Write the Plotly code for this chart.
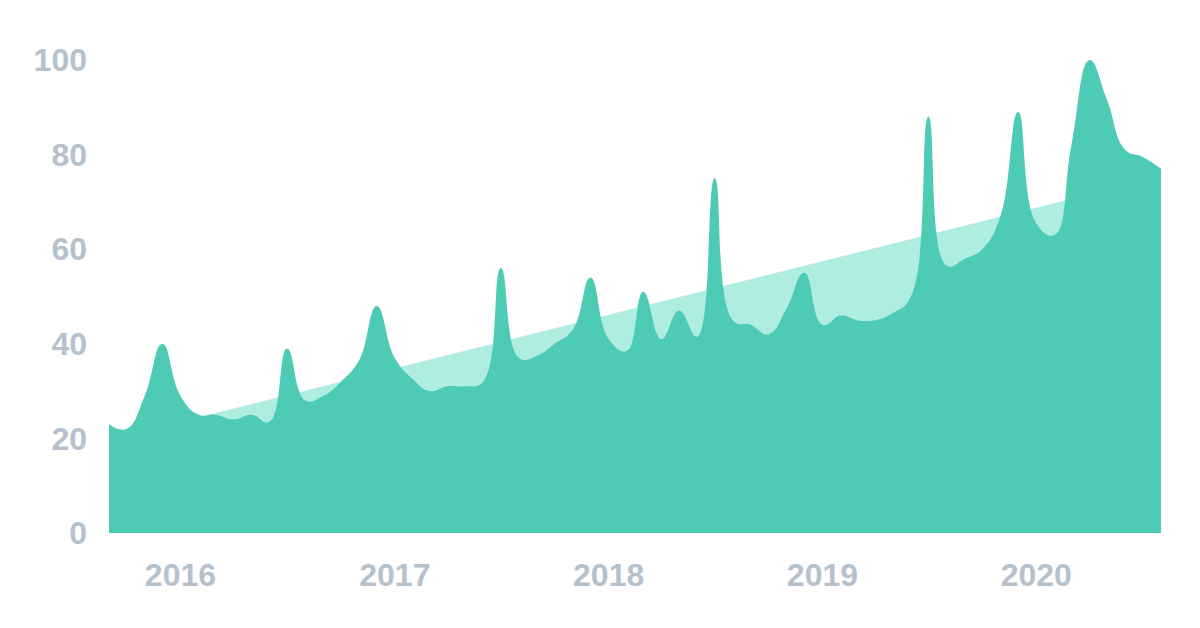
import plotly.graph_objects as go

# monthly interest, Sep 2015 .. Aug 2020
meses = [f"{2015 + (8 + i) // 12}-{(8 + i) % 12 + 1:02d}-01" for i in range(60)]
interesse = [
    23, 22, 29, 40,                                   # 2015 Sep-Dec
    29, 25, 25, 24, 25, 23.5, 39, 28, 29, 32, 36.5, 48,  # 2016
    37, 32.5, 30, 31, 31, 32, 56, 37, 37.5, 40, 43, 54,  # 2017
    41, 38.5, 51, 41, 47, 41.5, 75, 45, 44, 42, 47.5, 55,  # 2018
    44, 46, 45, 45, 46.5, 50, 88, 56.5, 58, 60, 67, 89,  # 2019
    65.5, 63, 82, 100, 91.5, 81, 79.5, 77,             # 2020 Jan-Aug
]

# linear trend, first and last month
tendencia_x = [meses[0], meses[-1]]
tendencia_y = [19.7, 75.4]

anos = ["2016-01-01", "2017-01-01", "2018-01-01", "2019-01-01", "2020-01-01"]
anos_txt = ["2016", "2017", "2018", "2019", "2020"]
y_ticks = [0, 20, 40, 60, 80, 100]

cor_texto = "#b6c1ce"

fig = go.Figure()

# tendência (área clara atrás)
fig.add_trace(
    go.Scatter(
        x=tendencia_x,
        y=tendencia_y,
        mode="lines",
        fill="tozeroy",
        fillcolor="#afede1",
        line=dict(width=0, color="#afede1"),
        hoverinfo="skip",
    )
)

# série principal
fig.add_trace(
    go.Scatter(
        x=meses,
        y=interesse,
        mode="lines",
        fill="tozeroy",
        fillcolor="#4ecbb5",
        line=dict(width=0, color="#4ecbb5", shape="spline", smoothing=1.3),
    )
)

# a página tem 8px de margem no body, por isso l/t menores
fig.update_layout(
    width=1200,
    height=628,
    margin=dict(l=101, r=47, t=52, b=103),
    paper_bgcolor="white",
    plot_bgcolor="white",
    showlegend=False,
    font=dict(family="Liberation Sans, Arial, sans-serif", size=32, color=cor_texto),
    xaxis=dict(
        type="date",
        range=[meses[0], meses[-1]],
        tickvals=anos,
        ticktext=anos_txt,
        showgrid=False,
        zeroline=False,
        showline=False,
        ticklabelstandoff=20,
        tickfont=dict(size=32, color=cor_texto, weight="bold"),
    ),
    yaxis=dict(
        range=[0, 100],
        tickvals=y_ticks,
        showgrid=False,
        zeroline=False,
        showline=False,
        ticklabelstandoff=21,
        tickfont=dict(size=32, color=cor_texto, weight="bold"),
    ),
)

fig.write_html("out.html")
